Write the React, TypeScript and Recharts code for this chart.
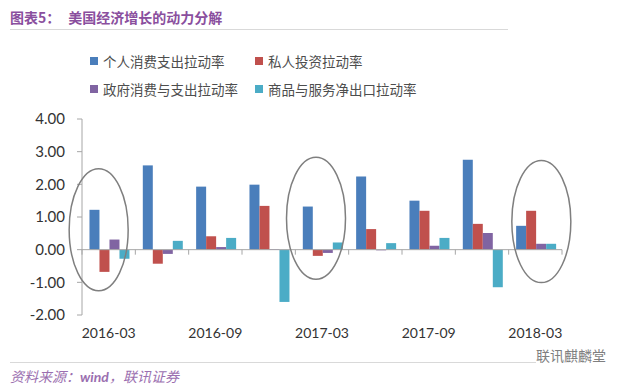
import { BarChart, Bar, XAxis, YAxis, ReferenceLine, ReferenceDot } from 'recharts'

const categories = ['2016-03', '2016-06', '2016-09', '2016-12', '2017-03', '2017-06', '2017-09', '2017-12', '2018-03']
const consumption = [1.22, 2.58, 1.93, 1.99, 1.32, 2.24, 1.5, 2.75, 0.73]
const investment = [-0.68, -0.43, 0.41, 1.34, -0.19, 0.63, 1.19, 0.79, 1.19]
const government = [0.31, -0.13, 0.08, 0.02, -0.1, -0.02, 0.12, 0.51, 0.18]
const netExports = [-0.28, 0.27, 0.36, -1.6, 0.22, 0.2, 0.36, -1.15, 0.18]
const seriesNames = ['个人消费支出拉动率', '私人投资拉动率', '政府消费与支出拉动率', '商品与服务净出口拉动率']
const yTicks = [-2, -1, 0, 1, 2, 3, 4]
// circled quarters (centre value on the y axis)
const highlights = [
  { x: '2016-03', y: 0.61, dx: -10 },
  { x: '2017-03', y: 0.96, dx: -6 },
  { x: '2018-03', y: 0.86, dx: 6 },
]

const COLOURS = ['#4a7ebb', '#c0504d', '#8064a2', '#4bacc6']
const CJK = '"Noto Sans CJK SC", "Noto Sans", sans-serif'
const NUM = 'Lato, "Open Sans", sans-serif'

const W = 627
const H = 391
const PLOT_LEFT = 82
const PLOT_RIGHT = 562
const HALF_BAND = (PLOT_RIGHT - PLOT_LEFT) / categories.length / 2

const data = categories.map((c, i) => ({
  name: c,
  s0: consumption[i],
  s1: investment[i],
  s2: government[i],
  s3: netExports[i],
}))

function Ellipse(props: any) {
  const dx = props.dx ?? 0
  return <ellipse cx={props.cx + dx} cy={props.cy} rx={29.5} ry={61} fill="none" stroke="#7f7f7f" strokeWidth={1.5} />
}

function BoundaryTick(props: any) {
  const x = props.cx + (props.last ? HALF_BAND : -HALF_BAND)
  return <line x1={x} x2={x} y1={props.cy} y2={props.cy + 5} stroke="#a6a6a6" strokeWidth={1} />
}

export default function App() {
  return (
    <div style={{ position: 'absolute', left: 0, top: 0, width: W, height: H, background: '#fff', overflow: 'hidden' }}>
      {/* header */}
      <div style={{ position: 'absolute', left: 10, top: 7, fontFamily: CJK, fontSize: 14, fontWeight: 700, color: '#8a4f9e', whiteSpace: 'nowrap' }}>
        <span>图表5：</span>
        <span style={{ marginLeft: 8 }}>美国经济增长的动力分解</span>
      </div>
      <div style={{ position: 'absolute', left: 10, top: 29, width: 498, height: 1, background: '#d9d9d9' }} />

      {/* legend */}
      {seriesNames.map((n, i) => (
        <div key={n} style={{
          position: 'absolute', left: i % 2 === 0 ? 90 : 255, top: i < 2 ? 51 : 79,
          display: 'flex', alignItems: 'center', fontFamily: CJK, fontSize: 13.5, color: '#4d4d4d', whiteSpace: 'nowrap',
        }}>
          <span style={{ display: 'inline-block', width: 8, height: 8, background: COLOURS[i], marginRight: 5 }} />
          {n}
        </div>
      ))}

      <div style={{ position: 'absolute', left: 0, top: 0 }}>
        <BarChart width={W} height={H} data={data}
          margin={{ top: 119, right: W - PLOT_RIGHT, bottom: 46, left: PLOT_LEFT - 60 }}
          barCategoryGap="14%" barGap={0}>
          <XAxis dataKey="name" interval={1} axisLine={false} tickLine={false} height={30}
            tick={{ fontSize: 14, fill: '#333', fontFamily: NUM }} dy={5} />
          <YAxis width={60} domain={[-2, 4]} ticks={yTicks} tickFormatter={(v: number) => v.toFixed(2)}
            axisLine={{ stroke: '#a6a6a6' }} tickLine={{ stroke: '#a6a6a6' }} tickSize={5} tickMargin={12}
            tick={{ fontSize: 15, fill: '#333', fontFamily: NUM }} interval={0} />
          <ReferenceLine y={0} stroke="#a6a6a6" />
          {[0, 1, 2, 3].map((k) => (
            <Bar key={k} dataKey={`s${k}`} name={seriesNames[k]} fill={COLOURS[k]} isAnimationActive={false} />
          ))}
          {categories.map((c) => (
            <ReferenceDot key={c} x={c} y={0} r={0} shape={(p: any) => <BoundaryTick {...p} last={false} />} />
          ))}
          <ReferenceDot x={categories[categories.length - 1]} y={0} r={0} shape={(p: any) => <BoundaryTick {...p} last />} />
          {highlights.map((h) => (
            <ReferenceDot key={h.x} x={h.x} y={h.y} r={0} shape={(p: any) => <Ellipse {...p} dx={h.dx} />} />
          ))}
        </BarChart>
      </div>

      {/* footer */}
      <div style={{ position: 'absolute', left: 10, top: 362, width: 590, height: 1, background: '#d9d9d9' }} />
      <div style={{ position: 'absolute', left: 10, top: 366, fontFamily: CJK, fontSize: 14, fontStyle: 'italic', color: '#9b6fb0', whiteSpace: 'nowrap' }}>
        资料来源：<span style={{ fontFamily: NUM, fontWeight: 700 }}>wind</span>，联讯证券
      </div>
      <div style={{ position: 'absolute', left: 536, top: 345, fontFamily: CJK, fontSize: 14, color: '#7f7f7f', whiteSpace: 'nowrap', background: '#fff' }}>
        联讯麒麟堂
      </div>
    </div>
  )
}
